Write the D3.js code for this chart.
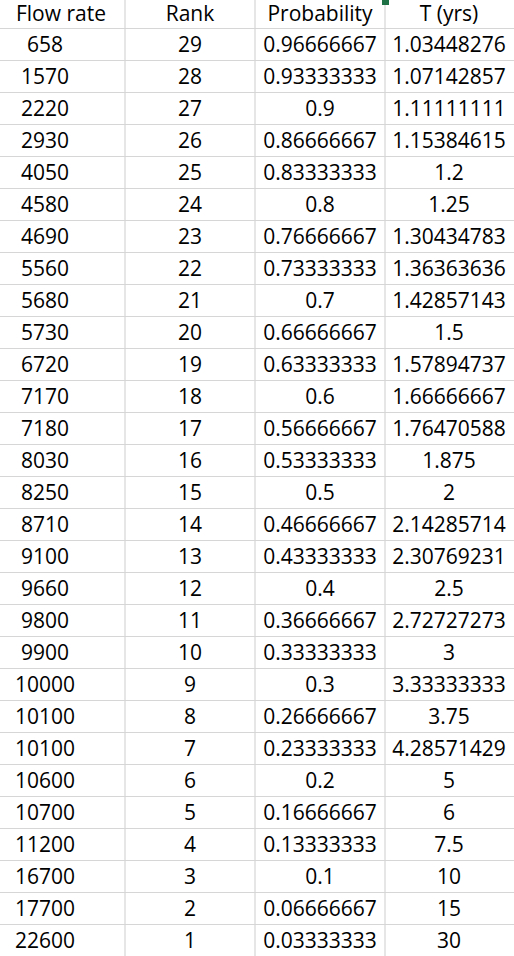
<!DOCTYPE html>
<html><head><meta charset="utf-8">
<script src="https://cdn.jsdelivr.net/npm/d3@7"></script>
<style>body{margin:0;background:#fff}</style>
</head><body>
<svg id="sheet"></svg>
<script>
const headers = ["Flow rate", "Rank", "Probability", "T (yrs)"]
const flow = ["658","1570","2220","2930","4050","4580","4690","5560","5680","5730","6720","7170","7180","8030","8250","8710","9100","9660","9800","9900","10000","10100","10100","10600","10700","11200","16700","17700","22600"]
const rank = ["29","28","27","26","25","24","23","22","21","20","19","18","17","16","15","14","13","12","11","10","9","8","7","6","5","4","3","2","1"]
const prob = ["0.96666667","0.93333333","0.9","0.86666667","0.83333333","0.8","0.76666667","0.73333333","0.7","0.66666667","0.63333333","0.6","0.56666667","0.53333333","0.5","0.46666667","0.43333333","0.4","0.36666667","0.33333333","0.3","0.26666667","0.23333333","0.2","0.16666667","0.13333333","0.1","0.06666667","0.03333333"]
const tyrs = ["1.03448276","1.07142857","1.11111111","1.15384615","1.2","1.25","1.30434783","1.36363636","1.42857143","1.5","1.57894737","1.66666667","1.76470588","1.875","2","2.14285714","2.30769231","2.5","2.72727273","3","3.33333333","3.75","4.28571429","5","6","7.5","10","15","30"]

const W = 514, H = 956
const svg = d3.select("#sheet").attr("width", W).attr("height", H)

const colEdges = [0, 125, 255, 385, 514]
const colCenters = [45, 190, 320, 449]
const headCenters = [61, 190, 320, 449]

const headerH = 28.5
const y = d3.scaleLinear().domain([0, flow.length]).range([headerH, H + 0.5])

const grid = svg.append("g").attr("stroke", "#d6d6d6").attr("stroke-width", 1.2)
d3.range(0, flow.length + 1).forEach(i => {
  grid.append("line").attr("x1", 0).attr("x2", W).attr("y1", y(i)).attr("y2", y(i))
})
colEdges.slice(1, 4).forEach(x => {
  grid.append("line").attr("x1", x).attr("x2", x).attr("y1", 0).attr("y2", H)
})

// selected cell marker
svg.append("rect").attr("x", 382).attr("y", 0).attr("width", 7).attr("height", 5).attr("fill", "#1e7145")

const font = "'Open Sans', sans-serif"
svg.selectAll("text.head").data(headers).enter().append("text")
  .attr("class", "head")
  .attr("x", (d, i) => headCenters[i]).attr("y", 21)
  .attr("text-anchor", "middle").attr("font-family", font).attr("font-size", 21).attr("fill", "#000")
  .text(d => d)

const cols = [flow, rank, prob, tyrs]
cols.forEach((arr, c) => {
  svg.append("g").selectAll("text").data(arr).enter().append("text")
    .attr("x", colCenters[c])
    .attr("y", (d, i) => (y(i) + y(i + 1)) / 2 + 7.5)
    .attr("text-anchor", "middle").attr("font-family", font).attr("font-size", 21).attr("fill", "#000")
    .text(d => d)
})
</script>
</body></html>
